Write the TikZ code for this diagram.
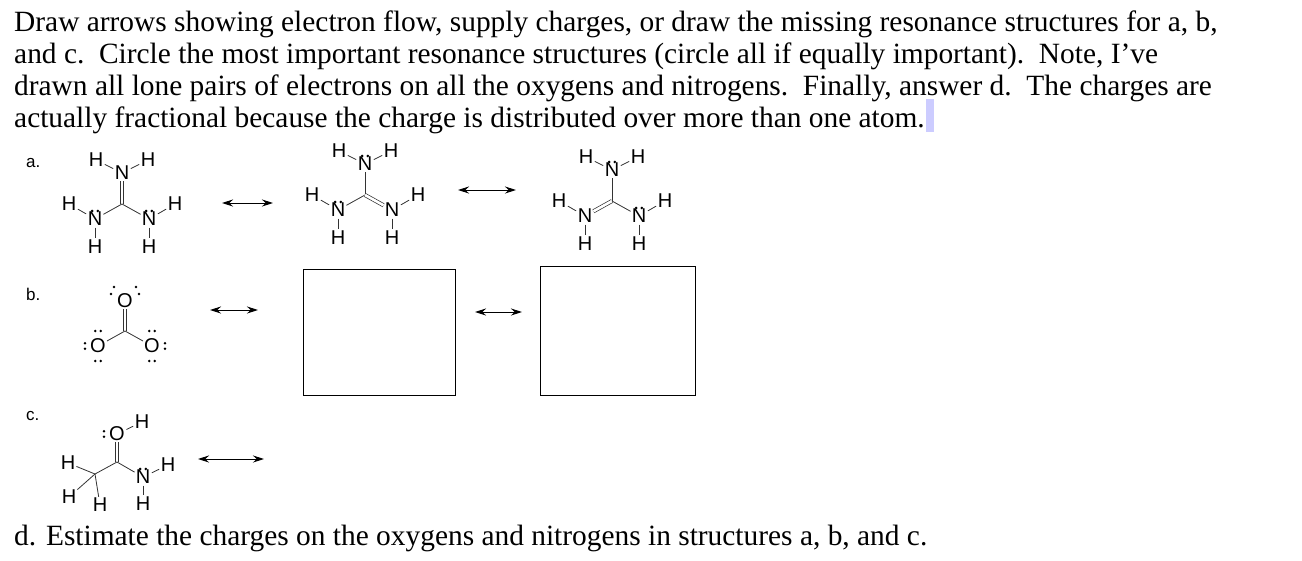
\documentclass[tikz,border=0pt]{standalone}
\usepackage{fontspec}
\setmainfont{Liberation Serif}
\newfontfamily\chemfont{Liberation Sans}
\usetikzlibrary{calc,arrows.meta}
\tikzset{
 txt/.style={anchor=base west,inner sep=0pt,font=\fontsize{29.4}{32}\selectfont},
 atom/.style={inner sep=1pt,font=\chemfont\fontsize{20}{20}\selectfont},
 lbl/.style={anchor=base west,inner sep=0pt,font=\chemfont\fontsize{17}{17}\selectfont},
 bond/.style={line width=0.8pt,black!80},
 hb/.style={bond,shorten <=0.5pt,shorten >=0.5pt},
 dbl/.style={bond,double,double distance=2.6pt,line width=0.7pt},
 res/.style={line width=1pt,{Stealth[length=11pt,width=7pt]}-{Stealth[length=11pt,width=7pt]}},
 box/.style={draw,line width=0.8pt}
}
\newcommand\lp[2]{\fill ($(#1)+(#2)+(-2.8,0)$) circle (1.4pt); \fill ($(#1)+(#2)+(2.8,0)$) circle (1.4pt);}
\newcommand\lpv[2]{\fill ($(#1)+(#2)+(0,-2.8)$) circle (1.4pt); \fill ($(#1)+(#2)+(0,2.8)$) circle (1.4pt);}
\newcommand\guanid[2]{%
 \coordinate (#1C) at (#2);
 \node[atom] (#1Nt) at ($(#2)+(0,-31)$) {N};
 \node[atom] (#1Ht1) at ($(#2)+(-26,-44)$) {H};
 \node[atom] (#1Ht2) at ($(#2)+(26,-44)$) {H};
 \node[atom] (#1Nl) at ($(#2)+(-27,15)$) {N};
 \node[atom] (#1Nr) at ($(#2)+(27,15)$) {N};
 \node[atom] (#1Hl) at ($(#2)+(-53,0)$) {H};
 \node[atom] (#1Hr) at ($(#2)+(53,0)$) {H};
 \node[atom] (#1Hbl) at ($(#2)+(-27,43)$) {H};
 \node[atom] (#1Hbr) at ($(#2)+(27,43)$) {H};
 \draw[hb] (#1Nt)--(#1Ht1); \draw[hb] (#1Nt)--(#1Ht2);
 \draw[hb] (#1Nl)--(#1Hl); \draw[hb] (#1Nl)--(#1Hbl);
 \draw[hb] (#1Nr)--(#1Hr); \draw[hb] (#1Nr)--(#1Hbr);
}
\begin{document}
\begin{tikzpicture}[x=1pt,y=-1pt]
\useasboundingbox (0,0) rectangle (1302,560);
\node[txt] (l1) at (14,31) {Draw arrows showing electron flow, supply charges, or draw the missing resonance structures for a, b,};
\node[txt] (l2) at (14,63) {and c.\ \ Circle the most important resonance structures (circle all if equally important).\ \ Note, I’ve};
\node[txt] (l3) at (14,95) {drawn all lone pairs of electrons on all the oxygens and nitrogens.\ \ Finally, answer d.\ \ The charges are};
\node[txt] (l4) at (14,127) {actually fractional because the charge is distributed over more than one atom.};
\fill[blue!20] (l4.base east) ++(1,5) rectangle ++(8,-33);
\node[lbl] (la) at (26,167) {a.};
\node[lbl] (lb) at (26,300) {b.};
\node[lbl] (lc) at (26,420) {c.};
% a
\guanid{A}{122,204}
\draw[dbl] (AC)--(ANt); \draw[bond] (AC)--(ANl); \draw[bond] (AC)--(ANr);
\lp{ANl.north}{0,0} \lp{ANr.north}{0,0}
\guanid{B}{365,195}
\draw[bond] (BC)--(BNt); \draw[bond] (BC)--(BNl); \draw[dbl] (BC)--(BNr);
\lp{BNt.north}{0,0} \lp{BNl.north}{0,0}
\guanid{D}{612,201}
\draw[bond] (DC)--(DNt); \draw[dbl] (DC)--(DNl); \draw[bond] (DC)--(DNr);
\lp{DNt.north}{0,0} \lp{DNr.north}{0,0}
\coordinate (a1l) at (222,203); \coordinate (a1r) at (273,203);
\coordinate (a2l) at (458,190); \coordinate (a2r) at (516,190);
\draw[res] (a1l)--(a1r); \draw[res] (a2l)--(a2r);
% b
\coordinate (bC) at (125,331);
\node[atom] (bOt) at (125,301) {O};
\node[atom] (bOl) at (98,346) {O};
\node[atom] (bOr) at (152,346) {O};
\draw[dbl] (bC)--(bOt); \draw[bond] (bC)--(bOl); \draw[bond] (bC)--(bOr);
\fill (114,287) circle (1.4pt); \fill (111,294) circle (1.4pt);
\fill (136,287) circle (1.4pt); \fill (139,294) circle (1.4pt);
\lp{bOl.center}{0,-15} \lp{bOl.center}{0,15} \lpv{bOl.center}{-13,0}
\lp{bOr.center}{0,-15} \lp{bOr.center}{0,15} \lpv{bOr.center}{13,0}
\coordinate (b1l) at (210,310); \coordinate (b1r) at (258,310);
\coordinate (b2l) at (475,312); \coordinate (b2r) at (522,312);
\draw[res] (b1l)--(b1r); \draw[res] (b2l)--(b2r);
\node[box,minimum width=152pt,minimum height=126pt,anchor=north west] (box1) at (303,269) {};
\node[box,minimum width=155pt,minimum height=129pt,anchor=north west] (box2) at (540,266) {};
% c
\node[atom] (cO) at (117,434) {O};
\node[atom] (cHO) at (142,422) {H};
\coordinate (cC) at (117,462);
\coordinate (cM) at (95,474);
\node[atom] (cH1) at (68,463) {H};
\node[atom] (cH2) at (69,497) {H};
\node[atom] (cH3) at (100,505) {H};
\node[atom] (cN) at (143,477) {N};
\node[atom] (cHN) at (168,465) {H};
\node[atom] (cHN2) at (143,504) {H};
\draw[hb] (cO)--(cHO); \draw[dbl] (cC)--(cO);
\draw[bond] (cC)--(cM); \draw[bond] (cC)--(cN);
\draw[bond] (cM)--(cH1); \draw[bond] (cM)--(cH2); \draw[bond] (cM)--(cH3);
\draw[hb] (cN)--(cHN); \draw[hb] (cN)--(cHN2);
\lpv{cO.center}{-13,0}
\lp{cN.north}{0,0}
\coordinate (c1l) at (198,459); \coordinate (c1r) at (264,459);
\draw[res] (c1l)--(c1r);
\node[txt] (ld) at (14,545) {d. Estimate the charges on the oxygens and nitrogens in structures a, b, and c.};
\end{tikzpicture}
\end{document}
